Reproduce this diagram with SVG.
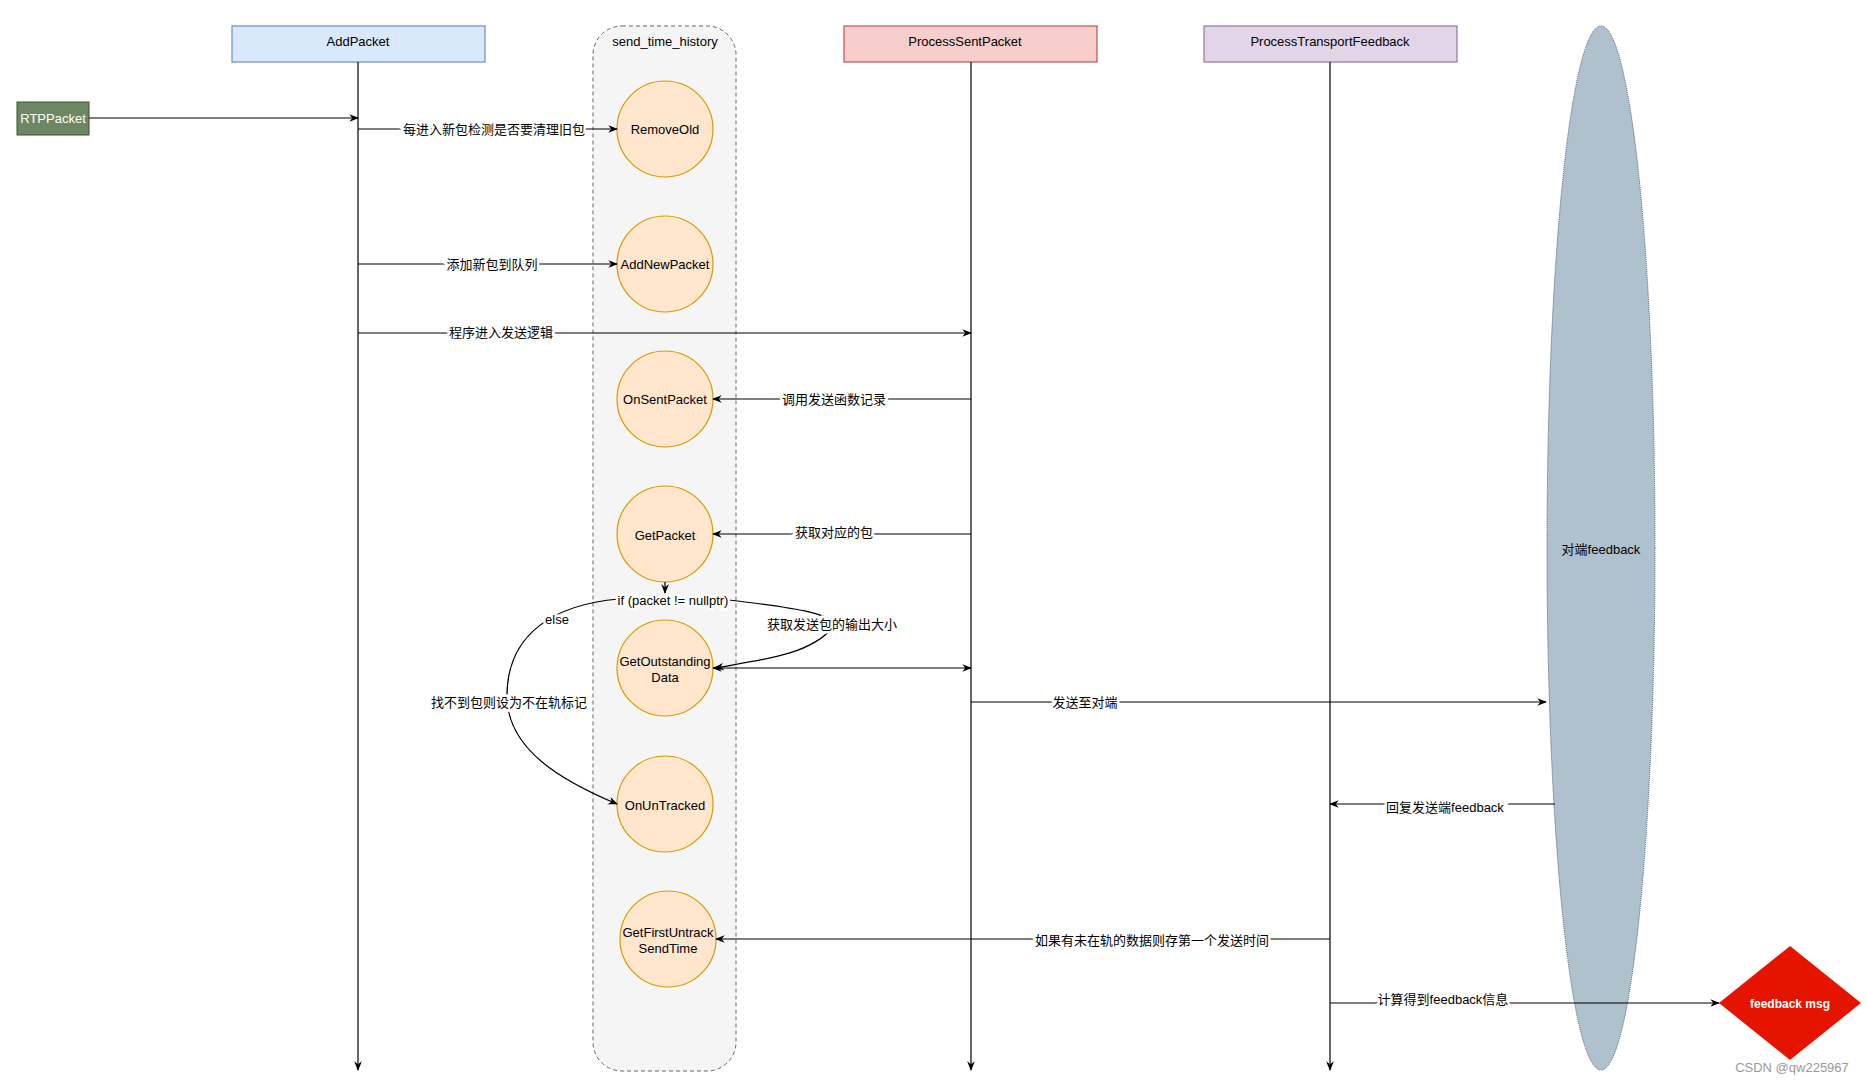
<svg xmlns="http://www.w3.org/2000/svg" width="1867" height="1083" viewBox="0 0 1867 1083">
<style>
text{font-family:"Liberation Sans","Noto Sans CJK SC",sans-serif;font-size:13px;fill:#000;text-anchor:middle;dominant-baseline:central}
.lbl{paint-order:stroke;stroke:#fff;stroke-width:5px}
.ln{stroke:#000;stroke-width:1.2;fill:none}
.c{fill:#ffe6cc;stroke:#d79b00;stroke-width:1.2}
</style>
<defs><marker id="a" viewBox="0 0 10 10" refX="9" refY="5" markerWidth="8" markerHeight="8" orient="auto-start-reverse"><path d="M0,1 L10,5 L0,9 L3,5z" fill="#000"/></marker></defs>
<rect width="1867" height="1083" fill="#fff"/>
<g id="container"><rect x="593" y="26" width="143" height="1045" rx="29" fill="#f5f5f5" stroke="#666" stroke-dasharray="4 3"/><text x="665" y="41">send_time_history</text></g>
<g id="addpacket"><rect x="232" y="26" width="253" height="36" fill="#dae8fc" stroke="#6c8ebf" stroke-width="1.2"/><text x="358" y="41">AddPacket</text></g>
<g id="processsent"><rect x="844" y="26" width="253" height="36" fill="#f8cecc" stroke="#b85450" stroke-width="1.2"/><text x="965" y="41">ProcessSentPacket</text></g>
<g id="processtf"><rect x="1204" y="26" width="253" height="36" fill="#e1d5e7" stroke="#9673a6" stroke-width="1.2"/><text x="1330" y="41">ProcessTransportFeedback</text></g>
<g id="peer"><ellipse cx="1601" cy="548" rx="54" ry="522" fill="#b0c1ce" stroke="#4a5a6a" stroke-dasharray="1 1"/><text x="1601" y="549">对端feedback</text></g>
<g id="rtp"><rect x="17" y="102" width="72" height="33" fill="#6d8764" stroke="#3a5431"/><text x="53" y="118" style="fill:#fff">RTPPacket</text></g>
<g id="diamond"><path d="M1790,946 L1861,1003 L1790,1060 L1719,1003z" fill="#e51400"/><text x="1790" y="1004" style="fill:#fff;font-weight:bold;font-size:12px">feedback msg</text></g>
<g id="n1"><circle class="c" cx="665" cy="129" r="48"/><text x="665" y="129">RemoveOld</text></g>
<g id="n2"><circle class="c" cx="665" cy="264" r="48"/><text x="665" y="264">AddNewPacket</text></g>
<g id="n3"><circle class="c" cx="665" cy="399" r="48"/><text x="665" y="399">OnSentPacket</text></g>
<g id="n4"><circle class="c" cx="665" cy="534" r="48"/><text x="665" y="535">GetPacket</text></g>
<g id="n5"><circle class="c" cx="665" cy="668" r="48"/><text x="665" y="661">GetOutstanding</text><text x="665" y="677">Data</text></g>
<g id="n6"><circle class="c" cx="665" cy="804" r="48"/><text x="665" y="805">OnUnTracked</text></g>
<g id="n7"><circle class="c" cx="668" cy="939" r="48"/><text x="668" y="932">GetFirstUntrack</text><text x="668" y="948">SendTime</text></g>
<g id="connectors">
<path class="ln" d="M358,62 V1070" marker-end="url(#a)"/>
<path class="ln" d="M971,62 V1070" marker-end="url(#a)"/>
<path class="ln" d="M1330,62 V1070" marker-end="url(#a)"/>
<path class="ln" d="M89,118 H358" marker-end="url(#a)"/>
<path class="ln" d="M358,129 H617" marker-end="url(#a)"/>
<path class="ln" d="M358,264 H617" marker-end="url(#a)"/>
<path class="ln" d="M358,333 H971" marker-end="url(#a)"/>
<path class="ln" d="M971,399 H713" marker-end="url(#a)"/>
<path class="ln" d="M971,534 H713" marker-end="url(#a)"/>
<path class="ln" d="M665,582 V593" marker-end="url(#a)"/>
<path class="ln" d="M728,600 C800,608 840,615 832,628 C810,655 760,660 715,668" marker-end="url(#a)"/>
<path class="ln" d="M619,599 C560,604 505,630 507,700 C510,750 560,780 617,804" marker-end="url(#a)"/>
<path class="ln" d="M713,668 H971" marker-start="url(#a)" marker-end="url(#a)"/>
<path class="ln" d="M971,702 H1546" marker-end="url(#a)"/>
<path class="ln" d="M1555,804 H1330" marker-end="url(#a)"/>
<path class="ln" d="M1330,939 H716" marker-end="url(#a)"/>
<path class="ln" d="M1330,1003 H1719" marker-end="url(#a)"/>
<text class="lbl" x="494" y="129">每进入新包检测是否要清理旧包</text>
<text class="lbl" x="492" y="264">添加新包到队列</text>
<text class="lbl" x="501" y="332">程序进入发送逻辑</text>
<text class="lbl" x="834" y="399">调用发送函数记录</text>
<text class="lbl" x="834" y="532">获取对应的包</text>
<text class="lbl" x="673" y="600">if (packet != nullptr)</text>
<text class="lbl" x="832" y="624">获取发送包的输出大小</text>
<text class="lbl" x="557" y="619">else</text>
<text class="lbl" x="509" y="702">找不到包则设为不在轨标记</text>
<text class="lbl" x="1085" y="702">发送至对端</text>
<text class="lbl" x="1445" y="807">回复发送端feedback</text>
<text class="lbl" x="1152" y="940">如果有未在轨的数据则存第一个发送时间</text>
<text class="lbl" x="1443" y="999">计算得到feedback信息</text>
</g>
<text x="1792" y="1067" style="fill:#999;font-size:13px">CSDN @qw225967</text>
</svg>
